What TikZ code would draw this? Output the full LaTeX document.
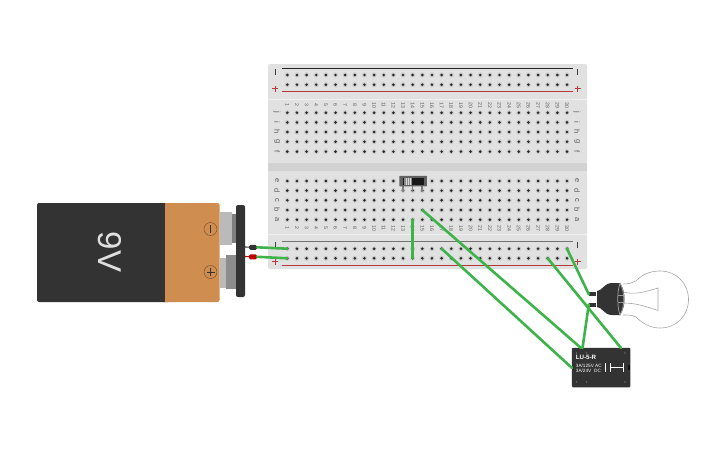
\documentclass[tikz,border=0pt]{standalone}
\usepackage{fontspec}
\setmainfont{Liberation Sans}
\definecolor{boardc}{HTML}{E1E1E1}
\definecolor{bandc}{HTML}{D2D2D2}
\definecolor{sepc}{HTML}{F0F0F0}
\definecolor{holec}{HTML}{2A2A2A}
\definecolor{haloc}{HTML}{CBCBCB}
\definecolor{darkc}{HTML}{333333}
\definecolor{orangec}{HTML}{CF8D50}
\definecolor{wirec}{HTML}{3DB34A}
\definecolor{railred}{HTML}{B5383A}
\definecolor{labc}{HTML}{5A5A5A}
\tikzset{
  hole/.pic={\fill[haloc] (0,0) circle (2.5); \fill[holec] (0,0) circle (1.45);},
  wire/.style={draw=wirec,line width=2.6,line cap=round},
  boardlab/.style={rotate=-90,inner sep=0,font=\fontsize{5.2}{5}\selectfont,text=labc},
  letterlab/.style={rotate=-90,inner sep=0,font=\fontsize{7.5}{7}\selectfont,text=labc},
  relaytext/.style={inner sep=0,anchor=west,text=white,font=\fontsize{4.7}{5}\selectfont},
  thinw/.style={draw=white,line width=0.4},
  minusbar/.style={draw=black!75,line width=0.8},
  plussym/.style={draw=railred,line width=0.8},
}
\begin{document}
\begin{tikzpicture}[x=1pt,y=-1pt]
\useasboundingbox (0,0) rectangle (725,453);
\fill[white] (0,0) rectangle (725,453);
% breadboard
\fill[boardc,rounded corners=1.5] (268,64) rectangle (587,269);
\fill[bandc] (268,163) rectangle (587,171);
\draw[sepc,line width=0.7] (268,99.5) -- (587,99.5) (268,234.5) -- (587,234.5);
\draw[black!85,line width=0.8] (282,68.3) -- (573,68.3);
\draw[railred,line width=0.9] (282,91.7) -- (573,91.7);
\draw[black!55,line width=1] (282,241.7) -- (573,241.7);
\draw[railred,line width=0.9] (282,265) -- (573,265);
\foreach \sx in {275,577.5}{
  \draw[minusbar] (\sx,69) -- (\sx,74.5);
  \draw[plussym] (\sx,85.5) -- (\sx,91.5) (\sx-3,88.5) -- (\sx+3,88.5);
  \draw[minusbar] (\sx,242) -- (\sx,247.5);
  \draw[plussym] (\sx,258.5) -- (\sx,264.5) (\sx-3,261.5) -- (\sx+3,261.5);
}
\foreach \col in {1,...,30}{
  \pgfmathsetmacro{\hx}{287.3+(\col-1)*9.645}
  \foreach \ry/\rn in {75/ta,84.7/tb,112.7/j,122.4/i,132/h,141.7/g,151.6/f,181/e,190.6/d,200.3/c,210/b,219.7/a,248.7/ba,258.3/bb}{
    \pic at (\hx,\ry) {hole};
    \coordinate (\rn\col) at (\hx,\ry);
  }
  \node[boardlab] (ntop\col) at (\hx,105) {\col};
  \node[boardlab] (nbot\col) at (\hx,228) {\col};
}
\foreach \ry/\rn in {112.7/j,122.4/i,132/h,141.7/g,151.6/f,181/e,190.6/d,200.3/c,210/b,219.7/a}{
  \node[letterlab] (ll\rn) at (277,\ry) {\rn};
  \node[letterlab] (lr\rn) at (577,\ry) {\rn};
}
% switch
\foreach \px in {403,412.5,422}{\draw[black!50,line width=1.3] (\px,186) -- (\px,192);}
\node[fill=black!62,minimum width=27.5,minimum height=10.5,inner sep=0,rounded corners=0.5] (switch) at (413,181) {};
\fill[black!90] (403,177.5) rectangle (423.5,185);
\fill[black!45] (404,178) rectangle (412,184.5);
\draw[black!15,line width=0.7] (406,178) -- (406,184.5) (408,178) -- (408,184.5) (410,178) -- (410,184.5);
% battery
\fill[black!27] (220,212) rectangle (232,245);
\fill[black!50] (232,214) rectangle (236,243);
\fill[black!27] (220,258) rectangle (226,288);
\fill[black!45] (226,255) rectangle (236,289);
\fill[darkc,rounded corners=2] (37,203) rectangle (170,302);
\fill[orangec,rounded corners=2] (160,203) rectangle (219.5,302);
\fill[darkc] (160,203) rectangle (165,302);
\node[rotate=-90,inner sep=0,text=black!12,font=\fontsize{33}{33}\selectfont] (ninev) at (110,252) {9V};
\node[circle,draw=black!40!orangec,line width=0.5,minimum size=13,inner sep=0] (minus) at (210.5,229) {};
\node[circle,draw=black!40!orangec,line width=0.5,minimum size=13,inner sep=0] (plus) at (210.5,272) {};
\draw[darkc,line width=0.9] (210.5,225) -- (210.5,233);
\draw[darkc,line width=0.9] (210.5,268) -- (210.5,276) (206.5,272) -- (214.5,272);
\node[fill=darkc,rounded corners=2,minimum width=9,minimum height=92,inner sep=0] (clip) at (240.5,251) {};
% battery leads
\coordinate (blk) at (245,247);
\coordinate (red) at (245,256.5);
\node[fill=darkc,rounded corners=1.5,minimum width=8,minimum height=5,inner sep=0] (blktip) at (253,247.3) {};
\node[fill=red!75!black,rounded corners=1.5,minimum width=8,minimum height=5,inner sep=0] (redtip) at (253,256.8) {};
\draw[darkc,line width=1.1] (blk) -- (blktip);
\draw[red!75!black,line width=1.1] (red) -- (redtip);
\draw[wire] (blktip.east) -- (ba1);
\draw[wire] (redtip.east) -- (bb1);
% bulb
\draw[black!35,line width=0.6] (623,284) .. controls (629,284) and (631,283) .. (636,281) .. controls (644,272) and (655,271) .. (660,271) .. controls (677,271) and (688.5,284) .. (688.5,299.5) .. controls (688.5,315) and (677,328) .. (660,328) .. controls (650,328) and (642,323) .. (636,317) .. controls (632,315) and (628,315) .. (623,315);
\draw[black!35,line width=0.6] (623,292) .. controls (635,295) and (645,292) .. (658,288) -- (658,310.5) .. controls (645,306) and (635,303) .. (623,303);
\fill[darkc] (597,291) .. controls (602,291) and (604,283) .. (612,283) -- (620,283) .. controls (626,291) and (626,307) .. (620,315) -- (612,315) .. controls (604,315) and (602,307) .. (597,307) -- cycle;
\draw[black!35,line width=0.7,fill=darkc] (620,283.5) .. controls (617,291) and (617,307) .. (620,315) .. controls (625,307) and (625,291) .. (620,283.5) -- cycle;
\draw[black!40,line width=0.6] (618,295) -- (624,295) (618,302) -- (624,302);
\node[fill=darkc,minimum width=7,minimum height=4,inner sep=0] (pinA) at (592.5,294.3) {};
\node[fill=darkc,minimum width=7,minimum height=4,inner sep=0] (pinB) at (592.5,304.5) {};
% relay
\node[fill=darkc,rounded corners=1,minimum width=58.5,minimum height=39.5,inner sep=0] (relay) at (601,367.5) {};
\fill[black!92] (627.5,365) rectangle (630,370);
\fill[black!60] (576.5,382) circle (0.9) (586.5,382) circle (0.9) (625,382) circle (0.9) (625,353) circle (0.9) (586.5,353) circle (0.9) (576.5,353) circle (0.9);
\node[relaytext,font=\fontsize{6.2}{6}\selectfont\bfseries] (rt1) at (575.7,357) {LU-5-R};
\node[relaytext] (rt2) at (575.7,365.5) {3A/125V AC};
\node[relaytext] (rt3) at (575.7,370.7) {3A/24V\,\, DC};
\draw[thinw] (605.5,363) -- (605.5,372) (610.5,363) -- (610.5,372) (623.5,363) -- (623.5,372) (610.5,367.5) -- (623.5,367.5);
% relay connection points
\coordinate (rA) at (581,348);
\coordinate (rB) at (582.5,348);
\coordinate (rC) at (572,368);
\coordinate (rD) at (621,348);
% wires
\draw[wire] (a14) -- (bb14);
\draw[wire] (b15) -- (rA);
\draw[wire] (ba17) -- (rC);
\draw[wire] (bb28) -- (rD);
\draw[wire] (ba30) -- (pinA.west);
\draw[wire] (rB) -- (pinB.west);
\end{tikzpicture}
\end{document}
